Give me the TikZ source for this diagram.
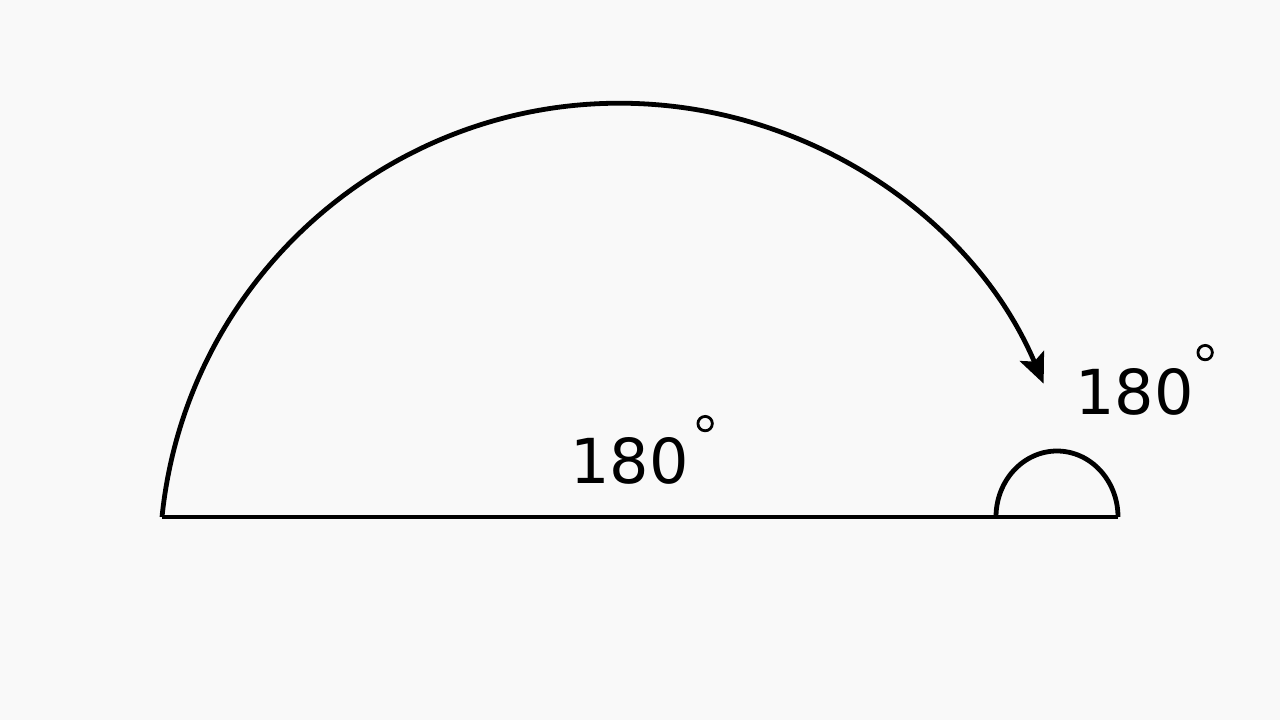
\documentclass[tikz,border=0pt]{standalone}
\usepackage{fontspec}
\setmainfont{DejaVu Sans}
\usetikzlibrary{arrows.meta}
\definecolor{bg}{RGB}{249,249,249}
\begin{document}
\begin{tikzpicture}[x=0.5pt,y=-0.5pt,
  stroke/.style={line width=2.4pt,line join=round},
  degree/.style={line width=1.4pt},
  lbl/.style={font=\fontsize{31}{36}\selectfont,inner sep=0pt,anchor=base west}]
\fill[bg] (0,0) rectangle (1280,720);
\useasboundingbox (0,0) rectangle (1280,720);
\coordinate (L) at (162,517);
\coordinate (R) at (1118,517);
\coordinate (S) at (996,517);
% base line
\draw[stroke] (L) -- (R);
% big arc with arrow
\draw[stroke,-{Stealth[length=15pt,width=13pt,inset=3pt]}] (L) arc[start angle=174.2,end angle=23.0,radius=230.15pt];
% small semicircle
\draw[stroke] (S) arc[start angle=180,end angle=0,x radius=30.5pt,y radius=33pt];
% labels
\node[lbl] (a) at (570,483) {180};
\node[lbl] (b) at (1075,414) {180};
\draw[degree] (a.north east) ++(16,-13) circle[radius=3.6pt];
\draw[degree] (b.north east) ++(11,-15) circle[radius=3.6pt];
\end{tikzpicture}
\end{document}
